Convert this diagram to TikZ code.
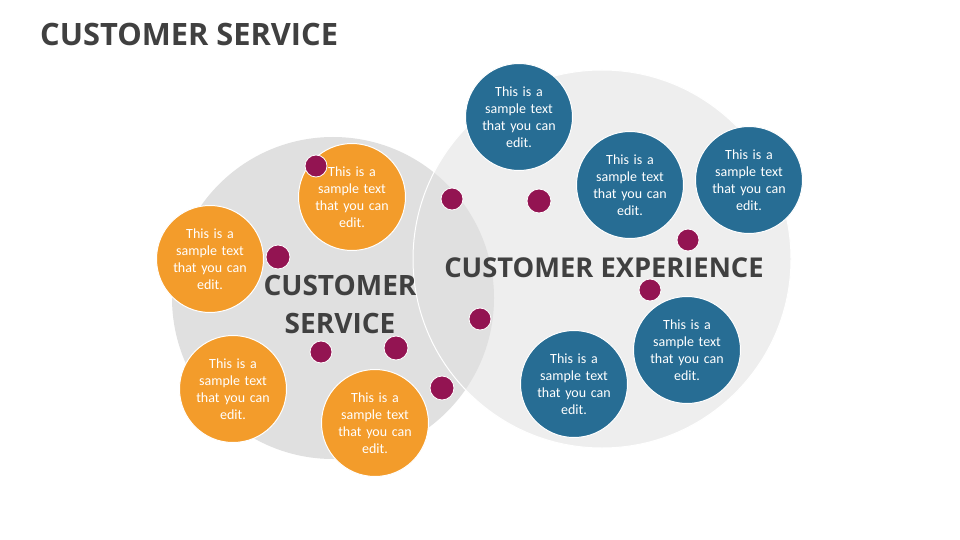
\documentclass[tikz,border=0pt]{standalone}
\usepackage{fontspec}
\setmainfont{Carlito}
\newfontfamily\headfont{Open Sans}
\definecolor{titlegray}{HTML}{404040}
\definecolor{bigleft}{HTML}{E0E0E0}
\definecolor{bigright}{HTML}{EEEEEE}
\definecolor{orangec}{HTML}{F39C2B}
\definecolor{bluec}{HTML}{276D94}
\definecolor{dotc}{HTML}{931452}
\tikzset{
  bubble/.style={circle, draw=white, line width=1pt, minimum size=107pt, inner sep=0pt,
    text=white, text width=84pt, align=center, font=\fontsize{14}{17}\selectfont},
  obubble/.style={bubble, fill=orangec},
  bbubble/.style={bubble, fill=bluec},
  dot/.style={circle, fill=dotc, draw=white, line width=0.8pt, minimum size=22pt, inner sep=0pt},
  bigdot/.style={dot, minimum size=24pt},
  headtxt/.style={font=\headfont\bfseries\fontsize{28}{34}\selectfont, text=titlegray, anchor=base, inner sep=0pt}
}
\begin{document}
\begin{tikzpicture}[x=1pt,y=-1pt]
\useasboundingbox (0,0) rectangle (960,540);
\fill[white] (0,0) rectangle (960,540);
% big circles
\fill[bigright] (602,259) circle (189);
\fill[bigleft] (333,298) circle (161);
\draw[white, line width=1pt] (602,259) circle (189);
% title
\node[font=\headfont\bfseries\fontsize{30.8}{36}\selectfont, text=titlegray, anchor=base west, inner sep=0pt] (title) at (40,46) {CUSTOMER SERVICE};
% heading texts
\node[headtxt] (cs1) at (340,295) {CUSTOMER};
\node[headtxt] (cs2) at (340,333) {SERVICE};
\node[headtxt, font=\headfont\bfseries\fontsize{27.3}{34}\selectfont] (cx) at (604,277) {CUSTOMER EXPERIENCE};
% orange bubbles
\node[obubble] (o1) at (352,197) {This is a\\sample text\\that you can\\edit.};
\node[obubble] (o2) at (210,259) {This is a\\sample text\\that you can\\edit.};
\node[obubble] (o3) at (233,389) {This is a\\sample text\\that you can\\edit.};
\node[obubble] (o4) at (375,423) {This is a\\sample text\\that you can\\edit.};
% blue bubbles
\node[bbubble] (b1) at (519,117) {This is a\\sample text\\that you can\\edit.};
\node[bbubble] (b2) at (630,185) {This is a\\sample text\\that you can\\edit.};
\node[bbubble] (b3) at (749,180) {This is a\\sample text\\that you can\\edit.};
\node[bbubble] (b4) at (687,350) {This is a\\sample text\\that you can\\edit.};
\node[bbubble] (b5) at (574,384) {This is a\\sample text\\that you can\\edit.};
% dots
\node[dot] (da) at (316,166) {};
\node[bigdot] (db) at (278,257) {};
\node[dot] (dc) at (452,199) {};
\node[dot] (dd) at (321,352) {};
\node[bigdot] (de) at (396,348) {};
\node[bigdot] (df) at (442,388) {};
\node[bigdot] (dg) at (539,201) {};
\node[dot] (dh) at (688,240) {};
\node[dot] (di) at (650,290) {};
\node[dot] (dj) at (480,319) {};
\end{tikzpicture}
\end{document}
